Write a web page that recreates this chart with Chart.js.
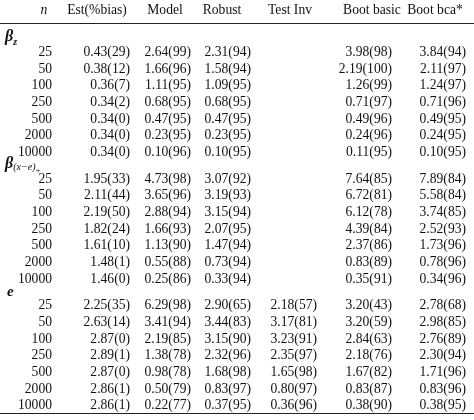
<!DOCTYPE html>
<html><head><meta charset="utf-8">
<script src="https://cdn.jsdelivr.net/npm/chart.js@4"></script>
<style>html,body{margin:0;padding:0;background:#fff}#w{width:474px;height:420px}</style>
</head><body><div id="w"><canvas id="c"></canvas></div>
<script>
const headers = ["n","Est(%bias)","Model","Robust","Test Inv","Boot basic","Boot bca*"];
const sampleSizes = ["25","50","100","250","500","2000","10000"];
const groups = ["bz","bxe","e"];
const est_bz  = ["0.43(29)","0.38(12)","0.36(7)","0.34(2)","0.34(0)","0.34(0)","0.34(0)"];
const model_bz = ["2.64(99)","1.66(96)","1.11(95)","0.68(95)","0.47(95)","0.23(95)","0.10(96)"];
const robust_bz = ["2.31(94)","1.58(94)","1.09(95)","0.68(95)","0.47(95)","0.23(95)","0.10(95)"];
const testinv_bz = ["","","","","","",""];
const basic_bz = ["3.98(98)","2.19(100)","1.26(99)","0.71(97)","0.49(96)","0.24(96)","0.11(95)"];
const bca_bz = ["3.84(94)","2.11(97)","1.24(97)","0.71(96)","0.49(95)","0.24(95)","0.10(95)"];
const est_bxe = ["1.95(33)","2.11(44)","2.19(50)","1.82(24)","1.61(10)","1.48(1)","1.46(0)"];
const model_bxe = ["4.73(98)","3.65(96)","2.88(94)","1.66(93)","1.13(90)","0.55(88)","0.25(86)"];
const robust_bxe = ["3.07(92)","3.19(93)","3.15(94)","2.07(95)","1.47(94)","0.73(94)","0.33(94)"];
const testinv_bxe = ["","","","","","",""];
const basic_bxe = ["7.64(85)","6.72(81)","6.12(78)","4.39(84)","2.37(86)","0.83(89)","0.35(91)"];
const bca_bxe = ["7.89(84)","5.58(84)","3.74(85)","2.52(93)","1.73(96)","0.78(96)","0.34(96)"];
const est_e = ["2.25(35)","2.63(14)","2.87(0)","2.89(1)","2.87(0)","2.86(1)","2.86(1)"];
const model_e = ["6.29(98)","3.41(94)","2.19(85)","1.38(78)","0.98(78)","0.50(79)","0.22(77)"];
const robust_e = ["2.90(65)","3.44(83)","3.15(90)","2.32(96)","1.68(98)","0.83(97)","0.37(95)"];
const testinv_e = ["2.18(57)","3.17(81)","3.23(91)","2.35(97)","1.65(98)","0.80(97)","0.36(96)"];
const basic_e = ["3.20(43)","3.20(59)","2.84(63)","2.18(76)","1.67(82)","0.83(87)","0.38(90)"];
const bca_e = ["2.78(68)","2.98(85)","2.76(89)","2.30(94)","1.71(96)","0.83(96)","0.38(95)"];

const table = {
  bz:[est_bz,model_bz,robust_bz,testinv_bz,basic_bz,bca_bz],
  bxe:[est_bxe,model_bxe,robust_bxe,testinv_bxe,basic_bxe,bca_bxe],
  e:[est_e,model_e,robust_e,testinv_e,basic_e,bca_e]
};
const colRight = [52,130,191,251,317,392,466];
const headCenter = [44,97,165,222,290,372,435];
const GROUP_STEP = 7.6, ROW0 = 2.55, LABEL0 = 1.7;
const FONT = '"Liberation Serif","DejaVu Serif",serif';

const pts = [];
groups.forEach((g,gi)=>sampleSizes.forEach((n,k)=>{
  const y = ROW0 + gi*GROUP_STEP + k;
  pts.push({x:colRight[0],y,t:n,a:'right'});
  table[g].forEach((col,ci)=>{ if(col[k]) pts.push({x:colRight[ci+1],y,t:col[k],a:'right'}); });
}));
headers.forEach((h,i)=>pts.push({x:headCenter[i],y:0,t:h,a:'center',head:true,i}));

const textPlugin = {
  id:'txt',
  afterDatasetsDraw(chart){
    const ctx = chart.ctx, xs = chart.scales.x, ys = chart.scales.y;
    ctx.save();
    ctx.fillStyle='#111'; ctx.textBaseline='middle';
    pts.forEach(p=>{
      const px = xs.getPixelForValue(p.x), py = ys.getPixelForValue(p.y);
      ctx.textAlign = p.a;
      ctx.font = (p.head && p.i===0 ? 'italic ' : '') + '13.6px ' + FONT;
      ctx.fillText(p.t, px, py);
    });
    const lx = xs.getPixelForValue(5);
    ctx.textAlign='left';
    groups.forEach((g,gi)=>{
      const py = ys.getPixelForValue(LABEL0 + gi*GROUP_STEP);
      if(g==='e'){ ctx.font='bold italic 15px '+FONT; ctx.fillText('e',lx+2,py); return; }
      ctx.font='bold italic 16px '+FONT; ctx.fillText('β',lx,py-1);
      const w = ctx.measureText('β').width;
      if(g==='bz'){ ctx.font='bold italic 10px '+FONT; ctx.fillText('z',lx+w,py+4); }
      else { ctx.font='italic 10px '+FONT; ctx.fillText('(x−e)',lx+w,py+2);
        const w2=ctx.measureText('(x−e)').width; ctx.font='9px '+FONT; ctx.fillText('+',lx+w+w2,py+6); }
    });
    ctx.strokeStyle='#222'; ctx.lineWidth=1.2;
    [0.78,24.2].forEach(v=>{ const py=Math.round(ys.getPixelForValue(v))+0.5;
      ctx.beginPath(); ctx.moveTo(xs.getPixelForValue(0),py); ctx.lineTo(xs.getPixelForValue(474),py); ctx.stroke(); });
    ctx.restore();
  }
};

new Chart(document.getElementById('c'),{
  type:'scatter',
  data:{datasets:[{data:pts.map(p=>({x:p.x,y:p.y})),pointRadius:0,showLine:false}]},
  options:{responsive:true,maintainAspectRatio:false,animation:false,
    layout:{padding:0},
    plugins:{legend:{display:false},tooltip:{enabled:false}},
    scales:{x:{type:'linear',min:0,max:474,display:false},
            y:{type:'linear',min:-0.6,max:24.6,reverse:true,display:false}}},
  plugins:[textPlugin]
});
</script></body></html>
